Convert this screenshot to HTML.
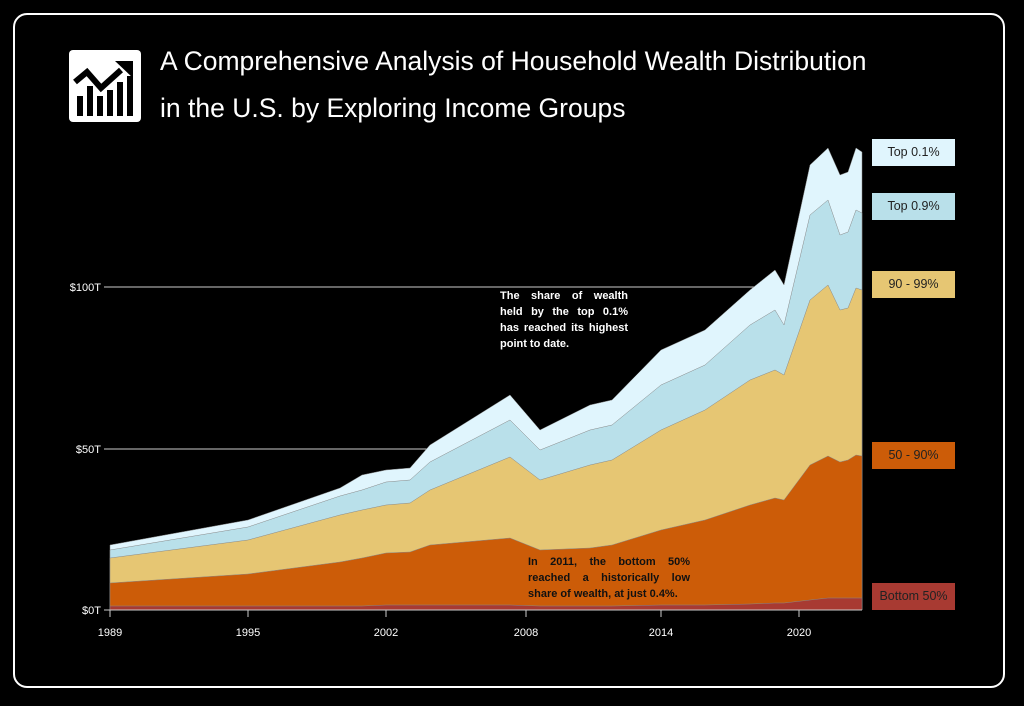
<!DOCTYPE html>
<html><head><meta charset="utf-8"><style>
html,body{margin:0;padding:0;background:#000;}
body{width:1024px;height:706px;position:relative;overflow:hidden;font-family:"Liberation Sans",sans-serif;}
.frame{position:absolute;left:13px;top:13px;width:992px;height:675px;border:2px solid #fff;border-radius:14px;box-sizing:border-box;}
.title{position:absolute;left:160px;top:38px;color:#fff;font-size:26.5px;line-height:47px;white-space:nowrap;}
.lg{position:absolute;left:872px;width:83px;height:27px;font-size:12.5px;line-height:27px;text-align:center;color:#222;}
.ann{position:absolute;font-size:11px;font-weight:bold;line-height:16px;text-align:justify;text-align-last:left;}
</style></head><body>
<div class="frame"></div>
<svg style="position:absolute;left:69px;top:50px" width="72" height="72" viewBox="0 0 72 72">
<rect x="0" y="0" width="72" height="72" rx="4" fill="#fff"/>
<polyline points="6,32 18,22 32,38 52,20" fill="none" stroke="#000" stroke-width="6"/>
<polygon points="46,11 64,11 64,28" fill="#000"/>
<g fill="#000"><rect x="8" y="46" width="6" height="20"/><rect x="18" y="36" width="6" height="30"/><rect x="28" y="46" width="6" height="20"/><rect x="38" y="40" width="6" height="26"/><rect x="48" y="32" width="6" height="34"/><rect x="58" y="26" width="6" height="40"/></g>
</svg>
<div class="title">A Comprehensive Analysis of Household Wealth Distribution<br>in the U.S. by Exploring Income Groups</div>
<svg id="ch" style="position:absolute;left:0;top:0" width="1024" height="706"></svg>
<div class="lg" style="top:139px;background:#e0f5fd">Top 0.1%</div>
<div class="lg" style="top:193px;background:#b9e0ea">Top 0.9%</div>
<div class="lg" style="top:271px;background:#e6c673">90 - 99%</div>
<div class="lg" style="top:442px;background:#cc5c08">50 - 90%</div>
<div class="lg" style="top:583px;background:#a83a32">Bottom 50%</div>
<div class="ann" style="left:500px;top:288px;width:128px;color:#fff">The share of wealth held by the top 0.1% has reached its highest point to date.</div>
<div class="ann" style="left:528px;top:554px;width:162px;color:#111">In 2011, the bottom 50% reached a historically low share of wealth, at just 0.4%.</div>
<script>
var X=[110,248,340,362,386,410,430,510,540,590,612,661,705,750,775,784,810,828,840,848,856,862];
var T=[
[545,520,488,475,470,468,445,395,430,405,400,350,330,290,270,285,165,148,175,172,148,152],
[550,527,496,490,482,480,462,420,450,430,425,385,365,325,310,325,215,200,235,232,210,213],
[558,540,515,510,505,503,490,457,480,465,460,430,410,380,370,375,300,285,310,308,288,290],
[583,574,562,558,553,552,545,538,550,548,545,530,520,505,498,500,465,456,462,460,455,456],
[606,606,606,606,605,605,605,605,606,606,606,605,605,604,603,603,600,598,598,598,598,598]];
var C=["#e0f5fd","#b9e0ea","#e6c673","#cc5c08","#a83a32"];
var s='<line x1="110" y1="287" x2="770" y2="287" stroke="#ccc" stroke-width="1"/><line x1="110" y1="449" x2="440" y2="449" stroke="#ccc" stroke-width="1"/>';
for(var i=0;i<5;i++){var p='110,610 ';for(var j=0;j<X.length;j++)p+=X[j]+','+T[i][j]+' ';p+='862,610';s+='<polygon points="'+p+'" fill="'+C[i]+'" stroke="#888" stroke-width="0.5"/>';}
s+='<line x1="110" y1="610" x2="862" y2="610" stroke="#ccc"/>';
var yl=[[610,'$0T'],[449,'$50T'],[287,'$100T']];
yl.forEach(function(a){s+='<line x1="104" y1="'+a[0]+'" x2="110" y2="'+a[0]+'" stroke="#ccc"/><text x="101" y="'+(a[0]+4)+'" fill="#fff" font-size="11" text-anchor="end" font-family="Liberation Sans">'+a[1]+'</text>';});
var xl=[[110,'1989'],[248,'1995'],[386,'2002'],[526,'2008'],[661,'2014'],[799,'2020']];
xl.forEach(function(a){s+='<line x1="'+a[0]+'" y1="610" x2="'+a[0]+'" y2="617" stroke="#ccc"/><text x="'+a[0]+'" y="636" fill="#fff" font-size="11" text-anchor="middle" font-family="Liberation Sans">'+a[1]+'</text>';});
document.getElementById('ch').innerHTML=s;
</script>
</body></html>
